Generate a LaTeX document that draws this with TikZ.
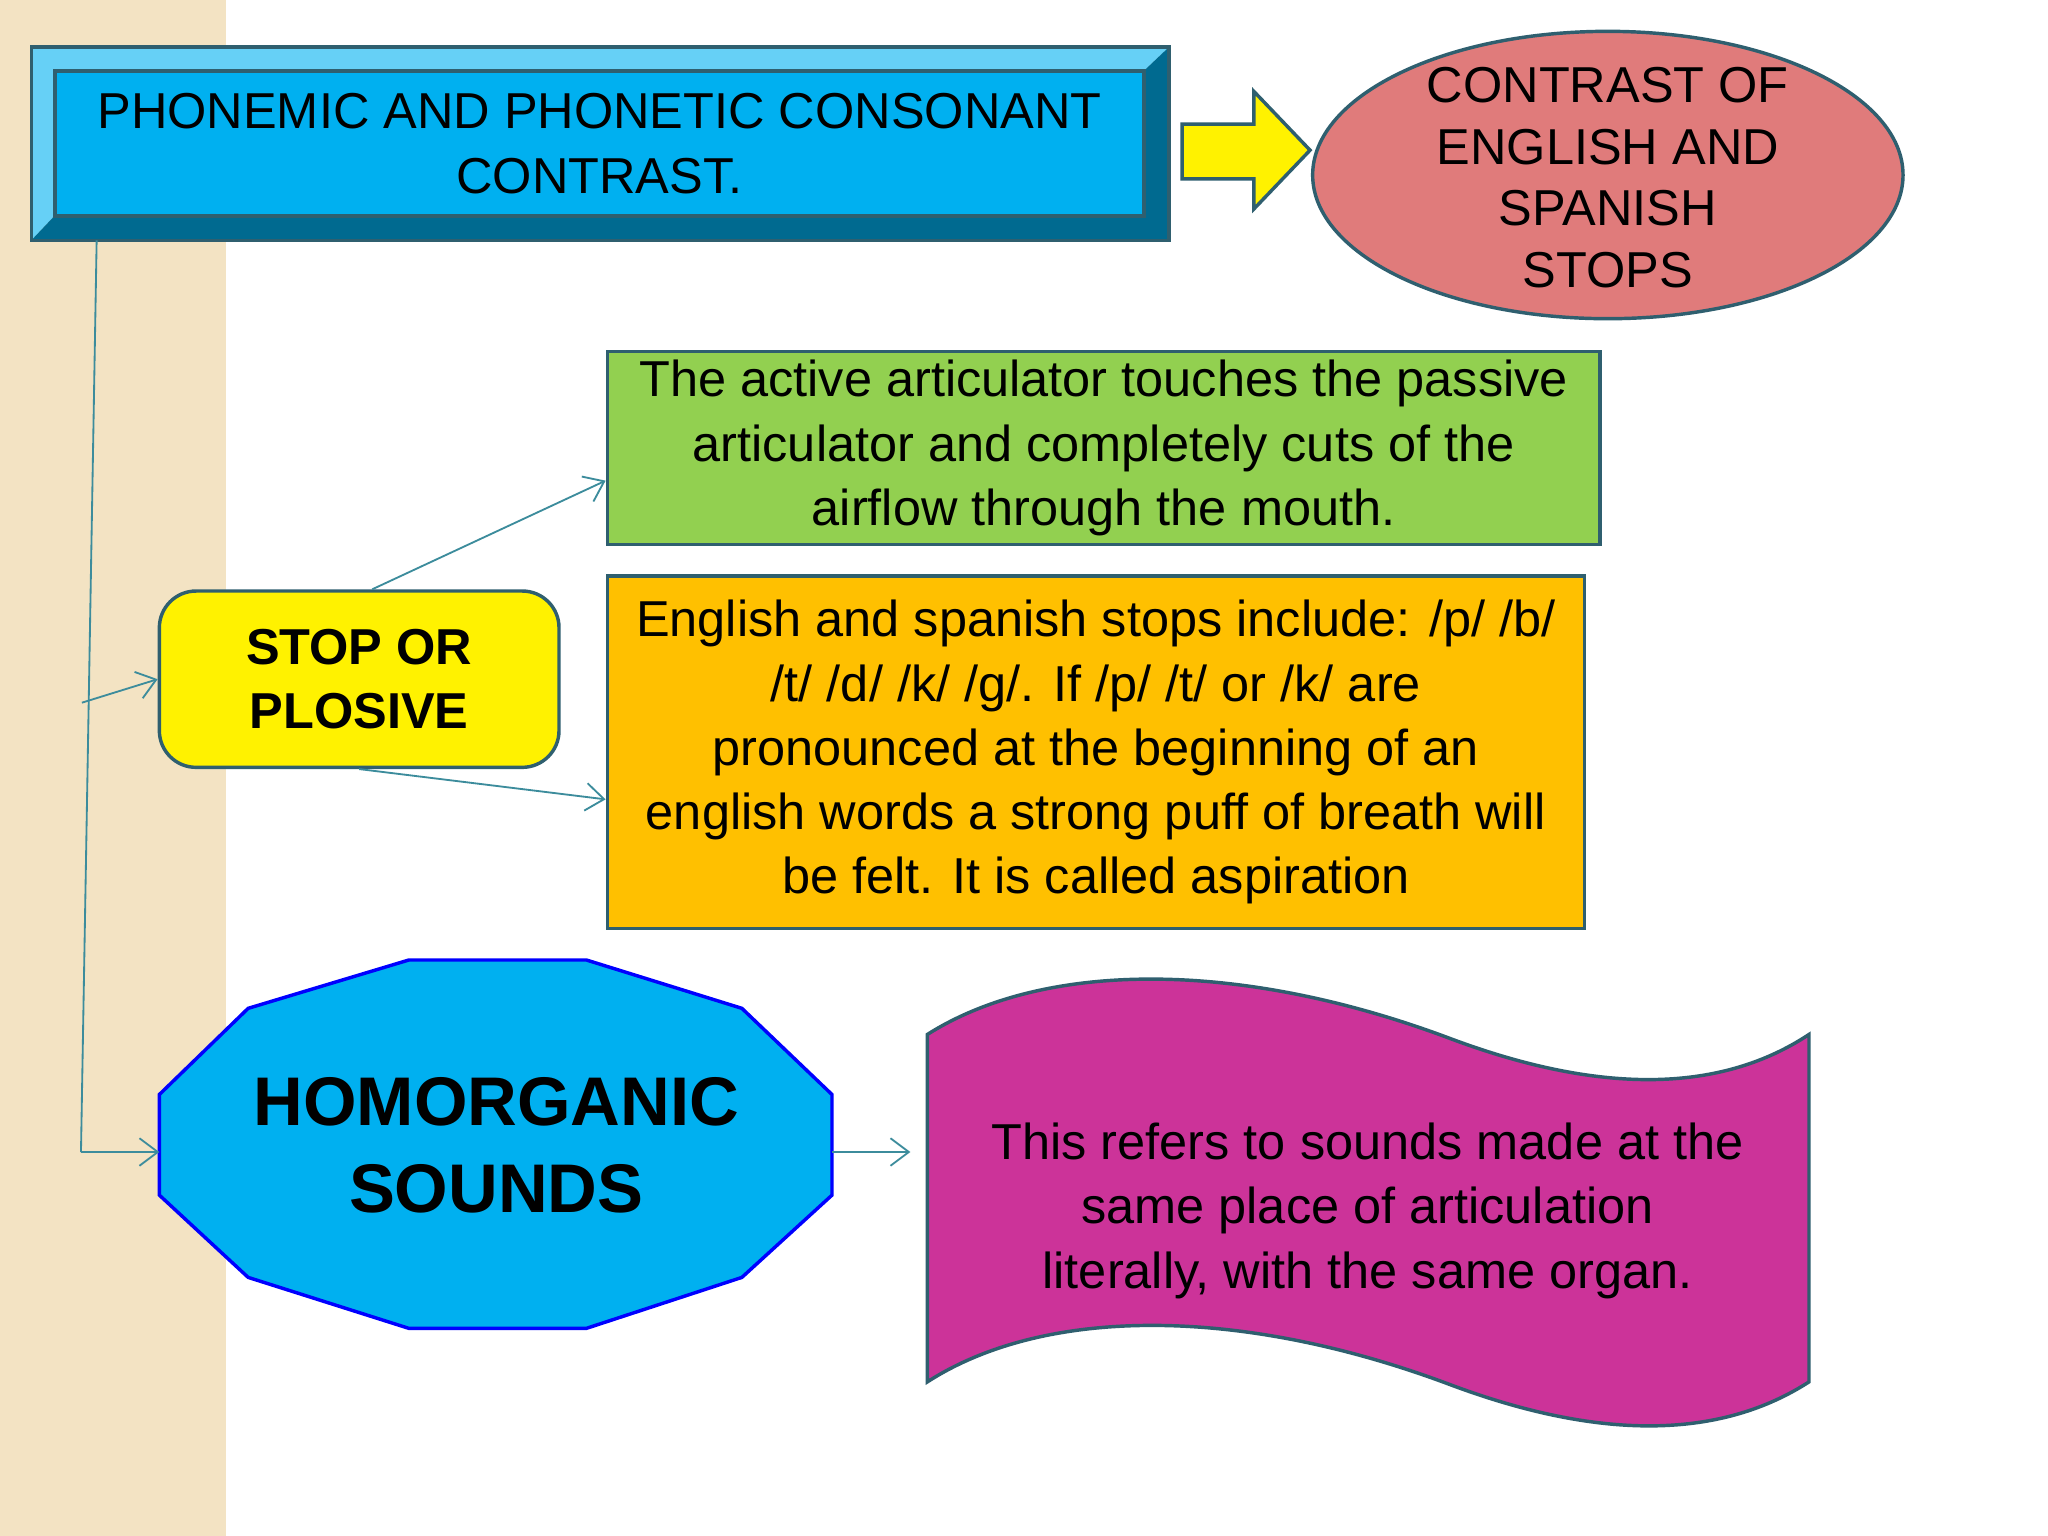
\documentclass[tikz,border=0pt]{standalone}
\usepackage{fontspec}
\setmainfont{Liberation Sans}
\usetikzlibrary{arrows.meta}
\definecolor{skyblue}{HTML}{00B0F0}
\definecolor{edgeteal}{HTML}{2F5F6F}
\definecolor{linkteal}{HTML}{3C8C9C}
\definecolor{stripbeige}{HTML}{F3E3C3}
\definecolor{rosefill}{HTML}{E07B7B}
\definecolor{leafgreen}{HTML}{92D050}
\definecolor{ambery}{HTML}{FFC000}
\definecolor{magentafill}{HTML}{CC3399}
\tikzset{
  textbox/.style={draw=edgeteal, line width=1.5pt, align=center, font=\fontsize{22}{28}\selectfont, inner sep=0pt},
  link/.style={draw=linkteal, line width=0.8pt, -{Straight Barb[length=8pt,width=12pt]}}
}
\begin{document}
\begin{tikzpicture}[x=0.02cm, y=-0.02cm]
  % background
  \useasboundingbox (0,0) rectangle (1568,1176);
  \fill[white] (0,0) rectangle (1568,1176);
  \fill[stripbeige] (0,0) rectangle (173,1176);

  % title box with bevel
  \fill[skyblue!60!white] (24,36) -- (895,36) -- (876,54) -- (42,54) -- (42,165) -- (24,184) -- cycle;
  \fill[skyblue!60!black] (895,36) -- (895,184) -- (24,184) -- (42,165) -- (876,165) -- (876,54) -- cycle;
  \draw[edgeteal, line width=1.5pt] (24,36) rectangle (895,184);
  \node[textbox, fill=skyblue, minimum width=834*0.02cm, minimum height=111*0.02cm] (title) at (459,110)
    {PHONEMIC AND PHONETIC CONSONANT\\CONTRAST.};
  \coordinate (titlefoot) at (74,184);

  % yellow arrow and ellipse
  \filldraw[fill=yellow, draw=edgeteal, line width=1.5pt]
    (905,95) -- (960,95) -- (960,70) -- (1003,115) -- (960,160) -- (960,137) -- (905,137) -- cycle;
  \filldraw[fill=rosefill, draw=edgeteal, line width=1.5pt] (1231,134) ellipse [x radius=226, y radius=110];
  \node[align=center, font=\fontsize{22}{27}\selectfont] (contrast) at (1231,136)
    {CONTRAST OF\\ENGLISH AND\\SPANISH\\STOPS};

  % text boxes
  \node[textbox, fill=leafgreen, minimum width=760*0.02cm, minimum height=148*0.02cm] (active) at (845,343)
    {The active articulator touches the passive\\articulator and completely cuts of the\\airflow through the mouth.};
  \node[textbox, fill=ambery, minimum width=748*0.02cm, minimum height=270*0.02cm] (stops) at (839,576)
    {English and spanish stops include: /p/ /b/\\/t/ /d/ /k/ /g/. If /p/ /t/ or /k/ are\\pronounced at the beginning of an\\english words a strong puff of breath will\\be felt. It is called aspiration};
  \node[textbox, fill=yellow, rounded corners=16pt, minimum width=306*0.02cm, minimum height=135*0.02cm,
    font=\fontsize{22}{28}\selectfont\bfseries] (plosive) at (275,520) {STOP OR\\PLOSIVE};

  % octagon
  \filldraw[fill=skyblue, draw=blue, line width=1.5pt]
    (313,735) -- (449,735) -- (568,772) -- (637,838) -- (637,915) -- (568,978) -- (449,1017)
    -- (313,1017) -- (190,978) -- (122,915) -- (122,838) -- (190,772) -- cycle;
  \node[align=center, font=\fontsize{30}{38}\selectfont\bfseries] (homorganic) at (380,877)
    {HOMORGANIC\\SOUNDS};
  \coordinate (octleft) at (122,882);
  \coordinate (octright) at (637,882);

  % wave banner
  \filldraw[fill=magentafill, draw=edgeteal, line width=1.5pt]
    (710,792) .. controls (800,735) and (950,735) .. (1110,795)
    .. controls (1230,840) and (1320,835) .. (1385,792)
    -- (1385,1058) .. controls (1320,1100) and (1230,1105) .. (1110,1060)
    .. controls (950,1000) and (800,1000) .. (710,1058) -- cycle;
  \node[align=center, font=\fontsize{22}{28}\selectfont] (organ) at (1047,927)
    {This refers to sounds made at the\\same place of articulation\\literally, with the same organ.};
  \coordinate (bannerleft) at (697,882);

  % connectors
  \coordinate (trunk1) at (62.7,538);
  \coordinate (trunk2) at (62,882);
  \draw[linkteal, line width=0.8pt] (titlefoot) -- (trunk2);
  \draw[link] (trunk1) -- (plosive.west);
  \draw[link] (trunk2) -- (octleft);
  \draw[link] ([xshift=10*0.02cm]plosive.north) -- (active.west |- 0,368);
  \draw[link] (plosive.south) -- (stops.west |- 0,612);
  \draw[link] (octright) -- (bannerleft);
\end{tikzpicture}
\end{document}
